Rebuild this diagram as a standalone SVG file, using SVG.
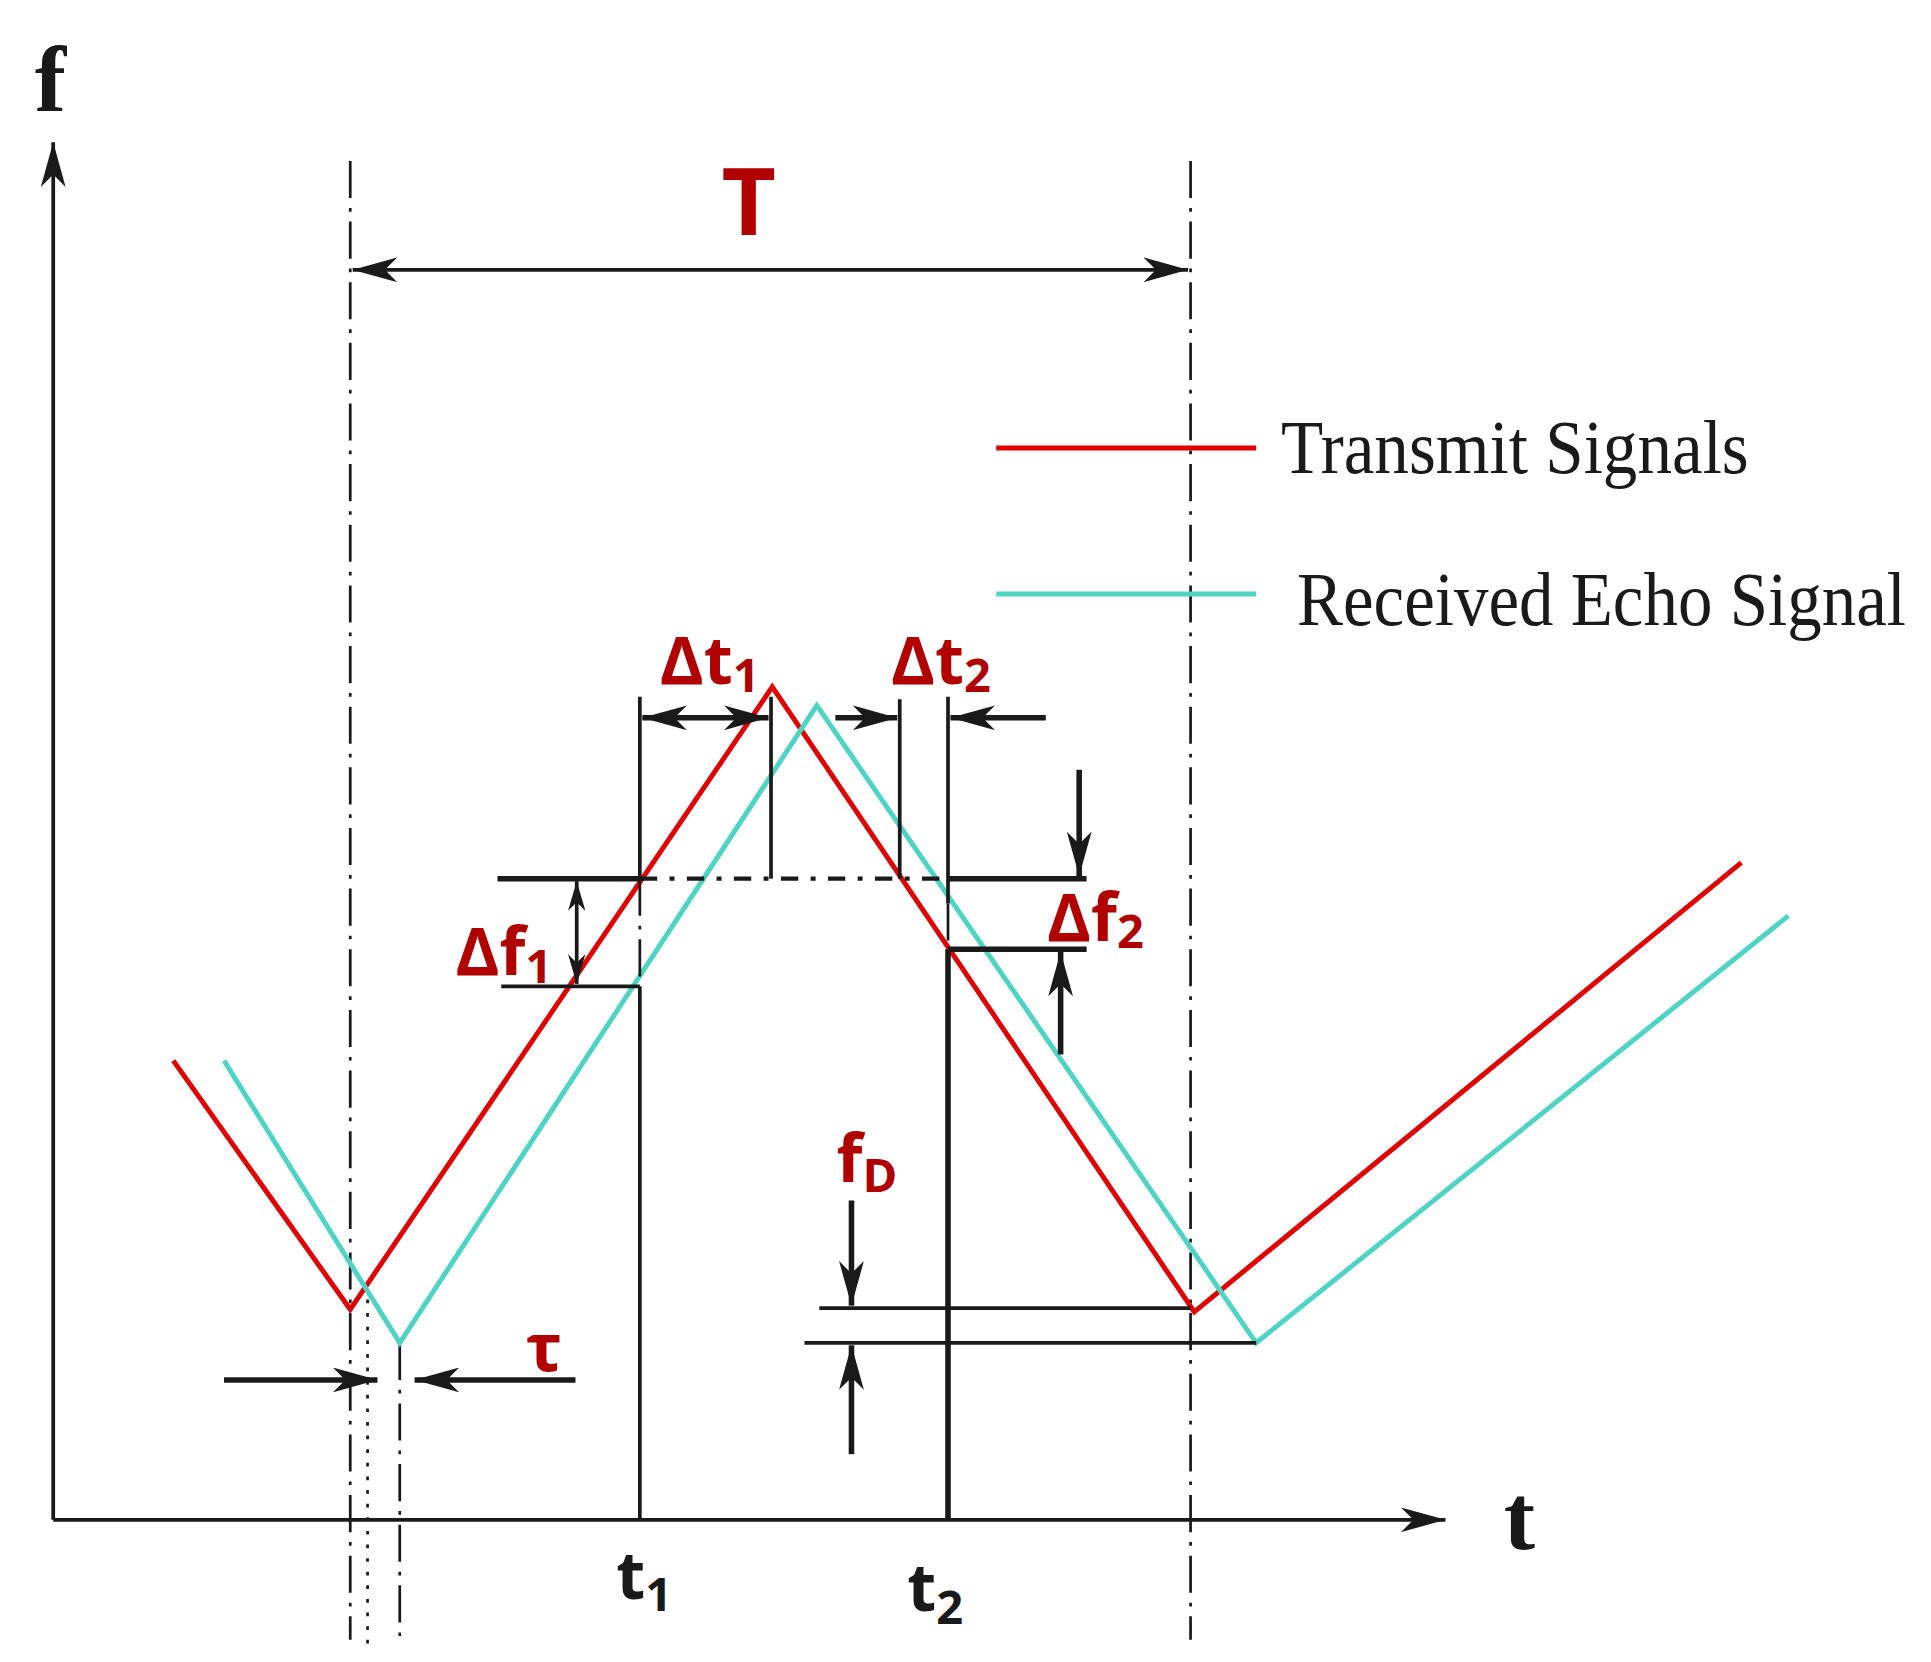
<svg xmlns="http://www.w3.org/2000/svg" width="1931" height="1662" viewBox="0 0 1931 1662">
<defs>
<marker id="ah" viewBox="0 0 24 14" refX="24" refY="7" markerWidth="24" markerHeight="14" markerUnits="userSpaceOnUse" orient="auto-start-reverse"><path d="M0,0 L24,7 L0,14 L7,7 Z" fill="#1a1a1a"/></marker>
<marker id="ahb" viewBox="0 0 36 20" refX="36" refY="10" markerWidth="36" markerHeight="20" markerUnits="userSpaceOnUse" orient="auto-start-reverse"><path d="M0,0 L36,10 L0,20 L10,10 Z" fill="#1a1a1a"/></marker>
<style>
.k{stroke:#1a1a1a;stroke-width:3;fill:none}
.kb{stroke:#1a1a1a;stroke-width:4.5;fill:none}
.dd{stroke:#1a1a1a;stroke-width:2.2;stroke-dasharray:30,8,3,8;fill:none}
.ddb{stroke:#1a1a1a;stroke-width:3.5;stroke-dasharray:14,10,4,10;fill:none}
.dt{stroke:#1a1a1a;stroke-width:2.2;stroke-dasharray:3,8;fill:none}
.red{stroke:#e00000;stroke-width:4;fill:none}
.cy{stroke:#4fd4c4;stroke-width:4;fill:none}
.lb{font-family:"Open Sans","Noto Sans",sans-serif;font-weight:bold;fill:#b00000;font-size:54px}
.lk{font-family:"Open Sans","Noto Sans",sans-serif;font-weight:bold;fill:#1a1a1a;font-size:54px}
.sub{font-size:38px}
.sr{font-family:"Liberation Serif",serif;fill:#1a1a1a;font-size:62px}
</style>
</defs>
<g transform="scale(1.2376)">
<g id="axes">
<line class="k" x1="43" y1="1228" x2="43" y2="115" marker-end="url(#ahb)"/>
<line class="k" x1="43" y1="1228" x2="1168" y2="1228" marker-end="url(#ahb)"/>
<text x="28" y="90" style="font-family:'Liberation Serif',serif;font-weight:bold;font-size:76px" fill="#1a1a1a">f</text>
<text x="1215" y="1252" style="font-family:'Liberation Serif',serif;font-weight:bold;font-size:76px" fill="#1a1a1a">t</text>
</g>
<g id="guides">
<line class="dd" x1="283" y1="130" x2="283" y2="1325"/>
<line class="dd" x1="962" y1="130" x2="962" y2="1325"/>
<line class="dt" x1="297" y1="1050" x2="297" y2="1330"/>
<line class="dd" x1="323" y1="1085" x2="323" y2="1325"/>
</g>
<g id="signals">
<polyline class="red" points="140,857 283,1058 624,555 965,1060 1407,697"/>
<polyline class="cy" points="181,857 323,1085 660,570 1015,1085 1445,740"/>
</g>
<g id="legend">
<line class="red" x1="805" y1="362" x2="1015" y2="362"/>
<text class="sr" x="1035" y="382" textLength="378" lengthAdjust="spacingAndGlyphs">Transmit Signals</text>
<line class="cy" x1="805" y1="480" x2="1015" y2="480"/>
<text class="sr" x="1048" y="505" textLength="492" lengthAdjust="spacingAndGlyphs">Received Echo Signal</text>
</g>
<g id="connectors">
<line class="k" x1="285" y1="218" x2="960" y2="218" marker-start="url(#ahb)" marker-end="url(#ahb)"/>
<line class="k" x1="517" y1="563" x2="517" y2="710"/>
<line class="dd" x1="517" y1="710" x2="517" y2="797"/>
<line class="k" x1="517" y1="797" x2="517" y2="1228"/>
<line class="k" x1="623" y1="563" x2="623" y2="710"/>
<line class="k" x1="727" y1="565" x2="727" y2="710"/>
<line class="k" x1="766" y1="563" x2="766" y2="730"/>
<line class="dd" x1="766" y1="730" x2="766" y2="767"/>
<line class="kb" x1="766" y1="767" x2="766" y2="1228"/>
<line class="kb" x1="402" y1="710" x2="517" y2="710"/>
<line class="ddb" x1="517" y1="710" x2="766" y2="710"/>
<line class="kb" x1="766" y1="710" x2="878" y2="710"/>
<line class="k" x1="405" y1="797" x2="517" y2="797"/>
<line class="kb" x1="766" y1="767" x2="878" y2="767"/>
<line class="kb" x1="519" y1="580" x2="621" y2="580" marker-start="url(#ahb)" marker-end="url(#ahb)"/>
<line class="kb" x1="675" y1="580" x2="725" y2="580" marker-end="url(#ahb)"/>
<line class="kb" x1="845" y1="580" x2="768" y2="580" marker-end="url(#ahb)"/>
<line class="k" x1="466" y1="712" x2="466" y2="795" marker-start="url(#ah)" marker-end="url(#ah)"/>
<line class="kb" x1="872" y1="622" x2="872" y2="708" marker-end="url(#ahb)"/>
<line class="kb" x1="857" y1="852" x2="857" y2="769" marker-end="url(#ahb)"/>
<line class="kb" x1="688" y1="970" x2="688" y2="1055" marker-end="url(#ahb)"/>
<line class="k" x1="662" y1="1057" x2="962" y2="1057"/>
<line class="k" x1="650" y1="1085" x2="1015" y2="1085"/>
<line class="kb" x1="688" y1="1175" x2="688" y2="1087" marker-end="url(#ahb)"/>
<line class="kb" x1="181" y1="1115" x2="305" y2="1115" marker-end="url(#ahb)"/>
<line class="kb" x1="465" y1="1115" x2="335" y2="1115" marker-end="url(#ahb)"/>
</g>
<g id="labels">
<text class="lb" x="583" y="190" style="font-size:76px">T</text>
<text class="lb" x="533" y="553">Δt<tspan class="sub" dy="6">1</tspan></text>
<text class="lb" x="720" y="553">Δt<tspan class="sub" dy="6">2</tspan></text>
<text class="lb" x="368" y="788">Δf<tspan class="sub" dy="6">1</tspan></text>
<text class="lb" x="846" y="760">Δf<tspan class="sub" dy="6">2</tspan></text>
<text class="lb" x="676" y="955">f<tspan class="sub" dy="8">D</tspan></text>
<text class="lb" x="425" y="1108">τ</text>
<text class="lk" x="498" y="1292">t<tspan class="sub" dy="10">1</tspan></text>
<text class="lk" x="733" y="1302">t<tspan class="sub" dy="10">2</tspan></text>
</g>
</g>
</svg>
